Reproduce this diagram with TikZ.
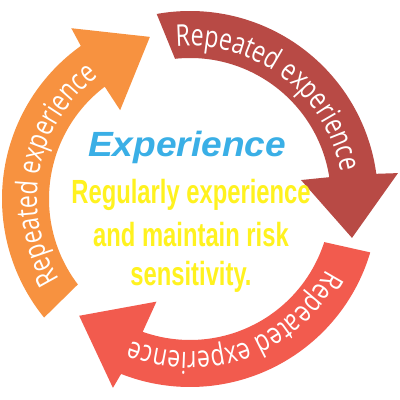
\documentclass[tikz,border=0pt]{standalone}
\usepackage{fontspec}
\usetikzlibrary{decorations.text}
\newfontfamily\arcfont[FakeStretch=0.77]{Open Sans}
\newfontfamily\titlefont[FakeStretch=1.06]{Liberation Sans}
\newfontfamily\bodyfont[FakeStretch=0.71]{Liberation Sans}
\definecolor{arcorange}{HTML}{F79240}
\definecolor{arcdarkred}{HTML}{B84A45}
\definecolor{arcred}{HTML}{F25B4E}
\definecolor{titleblue}{HTML}{3AAFE6}
\definecolor{bodyyellow}{HTML}{FFF21F}
\newcommand\arclabelfmt{\arcfont\fontsize{30pt}{32pt}\selectfont\color{white}}
\begin{document}
\begin{tikzpicture}[x=1pt,y=1pt,
  arclabel/.style={decorate, decoration={text along path, text align=center,
    text={|\arclabelfmt|Repeated experience}}},
  titletext/.style={text=titleblue, inner sep=0pt, font=\titlefont\bfseries\itshape\fontsize{35pt}{40pt}\selectfont},
  bodytext/.style={text=bodyyellow, inner sep=0pt, font=\bodyfont\bfseries\fontsize{33.5pt}{43pt}\selectfont}]
\useasboundingbox (0,0) rectangle (400,400);
\fill[white] (0,0) rectangle (400,400);
\begin{scope}[shift={(190,201)}]
  % orange arrow
  \fill[arcorange] (219.1:188) arc[start angle=219.1, end angle=125.5, radius=188]
    -- (124.8:208) -- (103.9:167) -- (128.2:113) -- (127.2:141)
    arc[start angle=127.2, end angle=217.3, radius=141] -- cycle;
  % dark red arrow
  \fill[arcdarkred] (100.2:188) arc[start angle=100.2, end angle=7.7, radius=188]
    -- (7.1:209.6) -- (-13.5:166.6) -- (9.7:112.6) -- (8.9:141)
    arc[start angle=8.9, end angle=96.1, radius=141] -- cycle;
  % red arrow
  \fill[arcred] (343.5:188) arc[start angle=343.5, end angle=248.5, radius=188]
    -- (247.8:204) -- (226.5:161) -- (251.9:108) -- (250.4:141)
    arc[start angle=250.4, end angle=342.2, radius=141] -- cycle;
  % labels along arrows
  \path[arclabel] (229.3:153) arc[start angle=229.3, end angle=109.3, radius=153];
  \path[arclabel] (112.7:153) arc[start angle=112.7, end angle=-7.3, radius=153];
  \path[arclabel] (350.1:153) arc[start angle=350.1, end angle=230.1, radius=153];
\end{scope}
\node[titletext, anchor=base] (title) at (187,243.5) {Experience};
\node[bodytext, anchor=base] (line1) at (191,196.7) {Regularly experience};
\node[bodytext, anchor=base] (line2) at (191,153.3) {and maintain risk};
\node[bodytext, anchor=base] (line3) at (191,114) {sensitivity.};
\end{tikzpicture}
\end{document}
